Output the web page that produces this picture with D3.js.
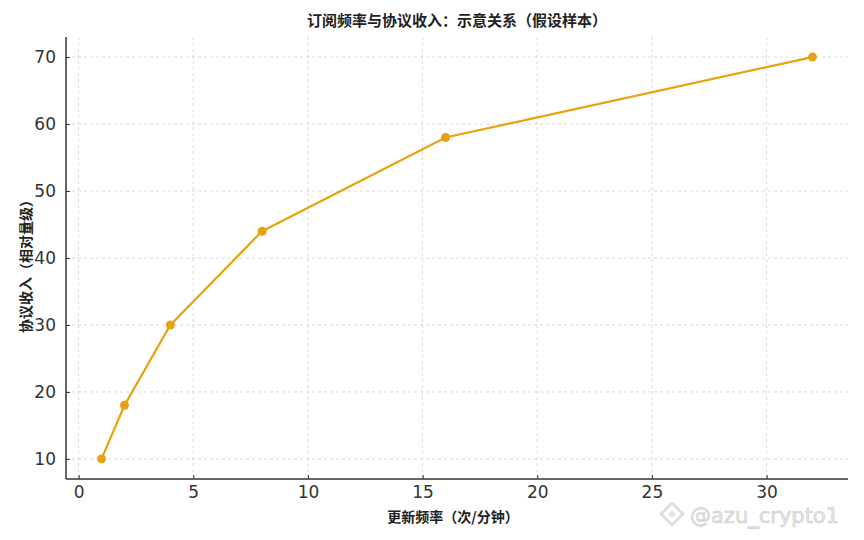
<!DOCTYPE html>
<html><head><meta charset="utf-8">
<script src="https://cdn.jsdelivr.net/npm/d3@7"></script>
<style>body{margin:0;background:#fff}svg{display:block}</style>
</head><body>
<svg id="c" width="864" height="540"></svg>
<script>
const freq = [1, 2, 4, 8, 16, 32];
const revenue = [10, 18, 30, 44, 58, 70];
const xTicks = [0, 5, 10, 15, 20, 25, 30];
const yTicks = [10, 20, 30, 40, 50, 60, 70];
const title = "订阅频率与协议收入：示意关系（假设样本）";
const xLabel = "更新频率（次/分钟）";
const yLabel = "协议收入（相对量级）";
const watermark = "@azu_crypto1";

const svg = d3.select("#c");
const L = 66, R = 848, T = 37, B = 479;
const x = d3.scaleLinear().domain([-0.55, 33.55]).range([L, R]);
const y = d3.scaleLinear().domain([7, 73]).range([B, T]);
const font = "'DejaVu Sans', 'Noto Sans CJK SC', sans-serif";
const cjk = "'Noto Sans CJK SC', sans-serif";

// grid
const g = svg.append("g");
g.selectAll(".gx").data(xTicks).join("line")
  .attr("x1", d => x(d)).attr("x2", d => x(d)).attr("y1", T).attr("y2", B)
  .attr("stroke", "#cfcfcf").attr("stroke-width", 0.8).attr("stroke-dasharray", "3,3");
g.selectAll(".gy").data(yTicks).join("line")
  .attr("y1", d => y(d)).attr("y2", d => y(d)).attr("x1", L).attr("x2", R)
  .attr("stroke", "#cfcfcf").attr("stroke-width", 0.8).attr("stroke-dasharray", "3,3");

// axes
const xAxis = d3.axisBottom(x).tickValues(xTicks).tickSizeInner(-4).tickSizeOuter(0).tickPadding(7);
const yAxis = d3.axisLeft(y).tickValues(yTicks).tickSizeInner(-4).tickSizeOuter(0).tickPadding(10);
const ax = svg.append("g").attr("transform", `translate(0,${B})`).call(xAxis);
const ay = svg.append("g").attr("transform", `translate(${L},0)`).call(yAxis);
[ax, ay].forEach(a => {
  a.select(".domain").attr("stroke", "#333").attr("stroke-width", 1.5);
  a.selectAll(".tick line").attr("stroke", "#333").attr("stroke-width", 1);
  a.selectAll(".tick text").attr("fill", "#333").style("font-family", font).style("font-size", "17px");
});
ax.select(".domain").attr("d", `M${L},0H${R}`);
ay.select(".domain").attr("d", `M0,${T}V${B}`);

// line
svg.append("path").datum(freq.map((f, i) => [f, revenue[i]]))
  .attr("fill", "none").attr("stroke", "#e9a20f").attr("stroke-width", 2.2)
  .attr("d", d3.line().x(d => x(d[0])).y(d => y(d[1])));
svg.selectAll(".pt").data(freq.map((f, i) => [f, revenue[i]])).join("circle")
  .attr("cx", d => x(d[0])).attr("cy", d => y(d[1])).attr("r", 4.5)
  .attr("fill", "#e9a20f");

// titles
svg.append("text").attr("x", (L + R) / 2).attr("y", 26).attr("text-anchor", "middle")
  .style("font-family", cjk).style("font-weight", "bold").style("font-size", "15px").attr("fill", "#222").text(title);
svg.append("text").attr("x", 453).attr("y", 522).attr("text-anchor", "middle")
  .style("font-family", cjk).style("font-weight", "bold").style("font-size", "14px").attr("fill", "#222").text(xLabel);
svg.append("text").attr("transform", `translate(31,${(T + B) / 2 + 5}) rotate(-90)`).attr("text-anchor", "middle")
  .style("font-family", cjk).style("font-weight", "bold").style("font-size", "14px").attr("fill", "#222").text(yLabel);

// watermark
const wm = svg.append("g");
wm.append("path").attr("d", "M672,503 l11,11 l-11,11 l-11,-11 z").attr("fill", "none").attr("stroke", "#dcdcdc").attr("stroke-width", 2.5);
wm.append("path").attr("d", "M672,510 l4,4 l-4,4 l-4,-4 z").attr("fill", "#e4e4e4");
wm.append("text").attr("x", 690).attr("y", 523).style("font-family", "'DejaVu Sans', sans-serif").style("font-size", "21px")
  .attr("fill", "#e6e6e6").attr("stroke", "#cccccc").attr("stroke-width", 0.6).text(watermark);
</script>
</body></html>
